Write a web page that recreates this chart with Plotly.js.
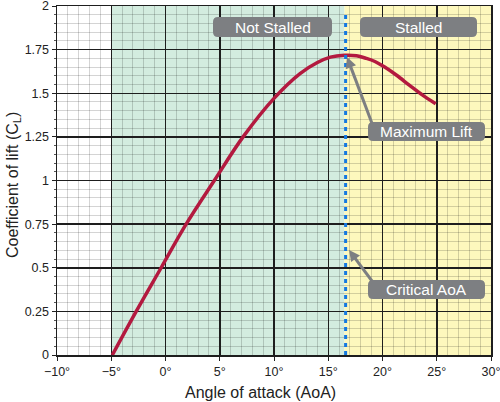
<!DOCTYPE html>
<html>
<head>
<meta charset="utf-8">
<script src="https://cdn.plot.ly/plotly-3.0.1.min.js"></script>
<style>html,body{margin:0;padding:0;background:#fff}#chart{width:500px;height:402px}</style>
</head>
<body>
<div id="chart"></div>
<script>
// Data
const aoa = [-4.9, -2.7, -0.4, 1.9, 4.5, 7.15, 10.0, 12.4, 14.0, 15.2, 16.5, 17.6, 18.5, 19.3, 20.2, 21.3, 22.5, 23.7, 24.9];
const cl  = [0, 0.25, 0.5, 0.75, 1.0, 1.25, 1.471, 1.613, 1.676, 1.707, 1.718, 1.715, 1.70, 1.682, 1.65, 1.603, 1.545, 1.489, 1.44];
const criticalAoA = 16.6;
const notStalledStart = -5;
const xTickVals = [-10, -5, 0, 5, 10, 15, 20, 25, 30];
const xTickText = ['\u221210\u00b0', '\u22125\u00b0', '0\u00b0', '5\u00b0', '10\u00b0', '15\u00b0', '20\u00b0', '25\u00b0', '30\u00b0'];
const yTickVals = [0, 0.25, 0.5, 0.75, 1, 1.25, 1.5, 1.75, 2];
const yTickText = ['0', '0.25', '0.5', '0.75', '1', '1.25', '1.5', '1.75', '2'];
const labels = ['Not Stalled', 'Stalled', 'Maximum Lift', 'Critical AoA'];
const xTitle = 'Angle of attack (AoA)';
const yTitle = 'Coefficient of lift (C<sub>L</sub>)';

// layout geometry
const W = 500, H = 402, mL = 57, mR = 9, mT = 6, mB = 47;
const xr = [-10, 30], yr = [0, 2];
const pxX = (W - mL - mR) / (xr[1] - xr[0]);
const pxY = (H - mT - mB) / (yr[1] - yr[0]);
const dx = px => xr[0] + (px - mL) / pxX;
const dy = py => yr[0] + (H - mB - py) / pxY;

function roundRect(x0p, x1p, y0p, y1p, r) {
  const x0 = dx(x0p), x1 = dx(x1p), yt = dy(y0p), yb = dy(y1p);
  const rx = r / pxX, ry = r / pxY;
  return `M${x0 + rx},${yt} L${x1 - rx},${yt} Q${x1},${yt} ${x1},${yt - ry} ` +
         `L${x1},${yb + ry} Q${x1},${yb} ${x1 - rx},${yb} L${x0 + rx},${yb} ` +
         `Q${x0},${yb} ${x0},${yb + ry} L${x0},${yt - ry} Q${x0},${yt} ${x0 + rx},${yt} Z`;
}
// arrow (pixel geometry) -> shaft line + head triangle
function arrowShapes(tip, tail, color) {
  const vx = tail[0] - tip[0], vy = tail[1] - tip[1];
  const len = Math.hypot(vx, vy), ux = vx / len, uy = vy / len;
  const hl = 11, hw = 5.5;
  const bx = tip[0] + ux * hl, by = tip[1] + uy * hl;
  const p1 = [bx - uy * hw, by + ux * hw], p2 = [bx + uy * hw, by - ux * hw];
  return [
    {type: 'line', layer: 'above', xref: 'x', yref: 'y', x0: dx(bx - ux * 1), y0: dy(by - uy * 1), x1: dx(tail[0]), y1: dy(tail[1]),
     line: {color: color, width: 3}},
    {type: 'path', layer: 'above', xref: 'x', yref: 'y',
     path: `M${dx(tip[0])},${dy(tip[1])} L${dx(p1[0])},${dy(p1[1])} L${dx(p2[0])},${dy(p2[1])} Z`,
     fillcolor: color, line: {width: 0}}
  ];
}

const boxes = [
  [213, 332, 17, 37],
  [360, 477, 17, 37],
  [368, 485, 122, 141],
  [368, 485, 280, 299]
];
const boxColor = '#7d7f82';
const fam = 'Liberation Sans, Arial, sans-serif';

let shapes = [
  {type: 'rect', layer: 'below', xref: 'x', yref: 'y', x0: notStalledStart, x1: criticalAoA - 0.1, y0: 0, y1: 2,
   fillcolor: '#d3ecdf', line: {width: 0}},
  {type: 'rect', layer: 'below', xref: 'x', yref: 'y', x0: criticalAoA - 0.1, x1: 30, y0: 0, y1: 2,
   fillcolor: '#fdf8bd', line: {width: 0}},
  {type: 'line', layer: 'above', xref: 'x', yref: 'y', x0: criticalAoA, x1: criticalAoA, y0: 0, y1: 1.97,
   line: {color: '#1478e0', width: 3, dash: '4px,4px'}}
];
shapes = shapes.concat(arrowShapes([347, 57], [373, 126], boxColor));
shapes = shapes.concat(arrowShapes([349, 250], [375, 285], boxColor));
boxes.forEach(b => shapes.push({type: 'path', layer: 'above', xref: 'x', yref: 'y',
  path: roundRect(b[0], b[1], b[2], b[3], 5), fillcolor: boxColor, line: {width: 0}}));

const annotations = [
  {xref: 'paper', yref: 'paper', x: (260 - mL) / (W - mL - mR), y: -(392 - (H - mB)) / (H - mT - mB),
   xanchor: 'center', yanchor: 'middle', showarrow: false, text: xTitle,
   font: {family: fam, size: 16, color: '#222'}},
  {xref: 'paper', yref: 'paper', x: -(mL - 13) / (W - mL - mR), y: (H - mB - 185) / (H - mT - mB),
   xanchor: 'center', yanchor: 'middle', showarrow: false, text: yTitle, textangle: -90,
   font: {family: fam, size: 16, color: '#222'}}
];
boxes.forEach((b, i) => annotations.push({
  x: dx((b[0] + b[1]) / 2), y: dy((b[2] + b[3]) / 2), xref: 'x', yref: 'y',
  text: labels[i], showarrow: false, font: {family: fam, size: 15.5, color: '#ffffff'},
  xanchor: 'center', yanchor: 'middle'
}));

const trace = {
  x: aoa, y: cl, type: 'scatter', mode: 'lines',
  line: {color: '#b3193f', width: 3.5, shape: 'spline', smoothing: 1},
  hoverinfo: 'skip'
};

const font = {family: fam, size: 12.5, color: '#222'};
const layout = {
  width: W, height: H,
  margin: {l: mL, r: mR, t: mT, b: mB},
  paper_bgcolor: '#fff', plot_bgcolor: '#fff',
  showlegend: false,
  font: font,
  xaxis: {
    range: xr, tickvals: xTickVals, ticktext: xTickText, ticks: 'outside', ticklen: 4, tickcolor: '#222',
    showgrid: true, gridcolor: '#1e1e1e', gridwidth: 1.5, zeroline: false,
    showline: true, linecolor: '#1e1e1e', linewidth: 1.5, mirror: true,
    ticklabeloverflow: 'allow',
    minor: {dtick: 1, showgrid: true, gridcolor: 'rgba(0,0,0,0.17)', gridwidth: 1, ticks: ''},
    tickfont: font, fixedrange: true
  },
  yaxis: {
    range: yr, tickvals: yTickVals, ticktext: yTickText, ticks: 'outside', ticklen: 4, tickcolor: '#222',
    showgrid: true, gridcolor: '#1e1e1e', gridwidth: 1.5, zeroline: false,
    showline: true, linecolor: '#1e1e1e', linewidth: 1.5, mirror: true,
    ticklabeloverflow: 'allow',
    minor: {dtick: 0.05, showgrid: true, gridcolor: 'rgba(0,0,0,0.17)', gridwidth: 1, ticks: 'outside', ticklen: 2, tickcolor: '#555'},
    tickfont: font, fixedrange: true
  },
  shapes: shapes,
  annotations: annotations
};

Plotly.newPlot('chart', [trace], layout, {staticPlot: true, displayModeBar: false});
</script>
</body>
</html>
